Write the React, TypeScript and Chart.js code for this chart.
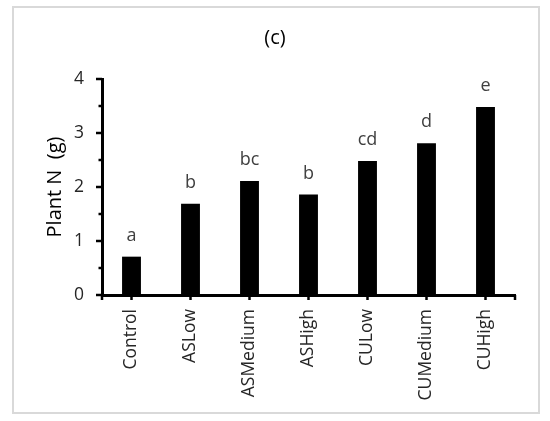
import { JSX, useEffect, useRef } from 'react';
import { Chart, registerables, Plugin } from 'chart.js';

Chart.register(...registerables);

const treatments: string[] = ['Control', 'ASLow', 'ASMedium', 'ASHigh', 'CULow', 'CUMedium', 'CUHigh'];
const plantN: number[] = [0.71, 1.69, 2.11, 1.86, 2.48, 2.81, 3.48];
const groupLetters: string[] = ['a', 'b', 'bc', 'b', 'cd', 'd', 'e'];
const yTicks: number[] = [0, 0.5, 1, 1.5, 2, 2.5, 3, 3.5, 4];

const FONT = "'Open Sans', 'Liberation Sans', sans-serif";
const TEXT = '#262626';

// Excel-style tick marks (major/minor) on both axes
const tickMarks: Plugin<'bar'> = {
  id: 'tickMarks',
  afterDraw(chart) {
    const { ctx, chartArea, scales } = chart;
    const x = scales.x;
    const y = scales.y;
    ctx.save();
    ctx.strokeStyle = '#000';
    ctx.lineWidth = 2.5;
    yTicks.forEach((v) => {
      const py = y.getPixelForValue(v);
      const len = Number.isInteger(v) ? 6 : 3.5;
      ctx.beginPath();
      ctx.moveTo(chartArea.left - len, py);
      ctx.lineTo(chartArea.left, py);
      ctx.stroke();
    });
    const xs = [chartArea.left, chartArea.right, ...treatments.map((_, i) => x.getPixelForValue(i))];
    xs.forEach((px) => {
      ctx.beginPath();
      ctx.moveTo(px, chartArea.bottom);
      ctx.lineTo(px, chartArea.bottom + 5);
      ctx.stroke();
    });
    ctx.restore();
  },
};

// significance letters above each bar
const letterLabels: Plugin<'bar'> = {
  id: 'letterLabels',
  afterDatasetsDraw(chart) {
    const { ctx, scales } = chart;
    ctx.save();
    ctx.fillStyle = '#404040';
    ctx.font = `18px ${FONT}`;
    ctx.textAlign = 'center';
    ctx.textBaseline = 'alphabetic';
    groupLetters.forEach((txt, i) => {
      const px = scales.x.getPixelForValue(i);
      const py = scales.y.getPixelForValue(plantN[i]);
      ctx.fillText(txt, px, py - 16);
    });
    ctx.restore();
  },
};

export default function App(): JSX.Element {
  const canvasRef = useRef<HTMLCanvasElement | null>(null);
  const chartRef = useRef<Chart | null>(null);

  useEffect(() => {
    if (chartRef.current) chartRef.current.destroy();
    if (!canvasRef.current) return;

    chartRef.current = new Chart(canvasRef.current, {
      type: 'bar',
      data: {
        labels: treatments,
        datasets: [
          {
            data: plantN,
            backgroundColor: '#000',
            borderWidth: 0,
            barPercentage: 0.32,
            categoryPercentage: 1,
          },
        ],
      },
      options: {
        responsive: false,
        animation: false,
        layout: { padding: { left: 35, right: 35, top: 0, bottom: 0 } },
        plugins: {
          legend: { display: false },
          tooltip: { enabled: false },
          title: {
            display: true,
            text: '(c)',
            color: '#000',
            font: { family: FONT, size: 20, weight: 'normal' },
            padding: { top: 26, bottom: 29 },
          },
        },
        scales: {
          x: {
            grid: { display: false, offset: false },
            border: { display: true, color: '#000', width: 3 },
            ticks: {
              color: TEXT,
              font: { family: FONT, size: 17.5 },
              minRotation: 90,
              maxRotation: 90,
              autoSkip: false,
              padding: 6,
            },
            afterFit: (scale) => {
              scale.height = 126;
            },
          },
          y: {
            min: 0,
            max: 4,
            grid: { display: false },
            border: { display: true, color: '#000', width: 3 },
            ticks: {
              stepSize: 1,
              color: TEXT,
              font: { family: FONT, size: 17.5 },
              padding: 10,
            },
            title: {
              display: true,
              text: 'Plant N  (g)',
              color: '#000',
              font: { family: FONT, size: 20 },
              padding: { top: 8, bottom: 0 },
            },
            afterFit: (scale) => {
              scale.width = 67;
            },
          },
        },
      },
      plugins: [tickMarks, letterLabels],
    });

    return () => {
      if (chartRef.current) {
        chartRef.current.destroy();
        chartRef.current = null;
      }
    };
  }, []);

  return (
    <div style={{ position: 'absolute', left: 0, top: 0, width: 550, height: 421, background: '#fff' }}>
      <div
        style={{
          position: 'absolute',
          left: 12,
          top: 6,
          width: 528,
          height: 408,
          boxSizing: 'border-box',
          border: '2px solid #d9d9d9',
        }}
      />
      <canvas ref={canvasRef} width={550} height={421} style={{ position: 'absolute', left: 0, top: 0 }} />
    </div>
  );
}
